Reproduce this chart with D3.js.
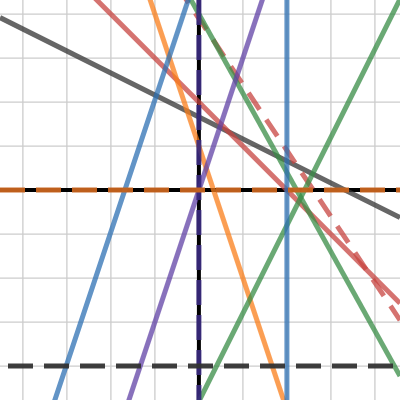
<!DOCTYPE html>
<html><head><meta charset="utf-8">
<script src="https://cdn.jsdelivr.net/npm/d3@7"></script>
<style>body{margin:0;background:#fff}</style>
</head><body><div id="vis"></div>
<script>
// sloped lines: y = m*x + b
const slopedNames = ["gray", "red", "redDash", "greenDown", "orange", "blueUp", "purple", "greenUp"]
const slopes = [-0.5, -1, -1.5, -1.8, -3, 3, 3, 2]
const intercepts = [1.66, 2, 3.9, 4, 1, 5.05, 0, -4.8]
const slopedColors = ["#333", "#c74440", "#c74440", "#388c46", "#fa7e19", "#2d70b3", "#6042a6", "#388c46"]
const slopedDash = [null, null, "20,12", null, null, null, null, null]
// vertical lines x = c
const vLines = [0, 2]
const vColors = ["#3a2a80", "#2d70b3"]
// horizontal lines y = c
const hLines = [0, -4]
const hColors = ["#c8641e", "#333"]

const width = 400, height = 400
const xScale = d3.scaleLinear().domain([-4.52, 4.57]).range([0, width])
const yScale = d3.scaleLinear().domain([-4.77, 4.32]).range([height, 0])

const svg = d3.select('#vis').append('svg')
    .attr('width', width).attr('height', height)

// grid
svg.append("g").selectAll("line").data(d3.range(-4, 5)).join("line")
    .attr("x1", d => xScale(d)).attr("x2", d => xScale(d))
    .attr("y1", 0).attr("y2", height)
    .attr("stroke", "#ccc").attr("stroke-width", 1.3)
svg.append("g").selectAll("line").data(d3.range(-4, 5)).join("line")
    .attr("y1", d => yScale(d)).attr("y2", d => yScale(d))
    .attr("x1", 0).attr("x2", width)
    .attr("stroke", "#ccc").attr("stroke-width", 1.3)

// black solid under the dashed axis lines
svg.append("line").attr("x1", 0).attr("x2", width)
    .attr("y1", yScale(0)).attr("y2", yScale(0))
    .attr("stroke", "#000").attr("stroke-width", 4)
svg.append("line").attr("y1", 0).attr("y2", height)
    .attr("x1", xScale(0)).attr("x2", xScale(0))
    .attr("stroke", "#000").attr("stroke-width", 4)

const x0 = -4.52, x1 = 4.57
const sloped = slopedNames.map((n, i) => ({m: slopes[i], b: intercepts[i], color: slopedColors[i], dash: slopedDash[i]}))
svg.append("g").selectAll("line").data(sloped).join("line")
    .attr("x1", xScale(x0)).attr("x2", xScale(x1))
    .attr("y1", d => yScale(d.m * x0 + d.b))
    .attr("y2", d => yScale(d.m * x1 + d.b))
    .attr("stroke", d => d.color)
    .attr("stroke-opacity", 0.75)
    .attr("stroke-width", 5)
    .attr("stroke-dasharray", d => d.dash)

svg.append("g").selectAll("line").data(vLines).join("line")
    .attr("x1", d => xScale(d)).attr("x2", d => xScale(d))
    .attr("y1", 0).attr("y2", height)
    .attr("stroke", (d, i) => vColors[i])
    .attr("stroke-opacity", (d, i) => i == 0 ? 0.9 : 0.75)
    .attr("stroke-width", 5)
    .attr("stroke-dasharray", (d, i) => i == 0 ? "25,10" : null)

svg.append("g").selectAll("line").data(hLines).join("line")
    .attr("y1", d => yScale(d)).attr("y2", d => yScale(d))
    .attr("x1", 0).attr("x2", width)
    .attr("stroke", (d, i) => hColors[i])
    .attr("stroke-opacity", 0.95)
    .attr("stroke-width", 5)
    .attr("stroke-dasharray", "25,11")
    .attr("stroke-dashoffset", (d, i) => i == 0 ? 0 : -8)
</script></body></html>
